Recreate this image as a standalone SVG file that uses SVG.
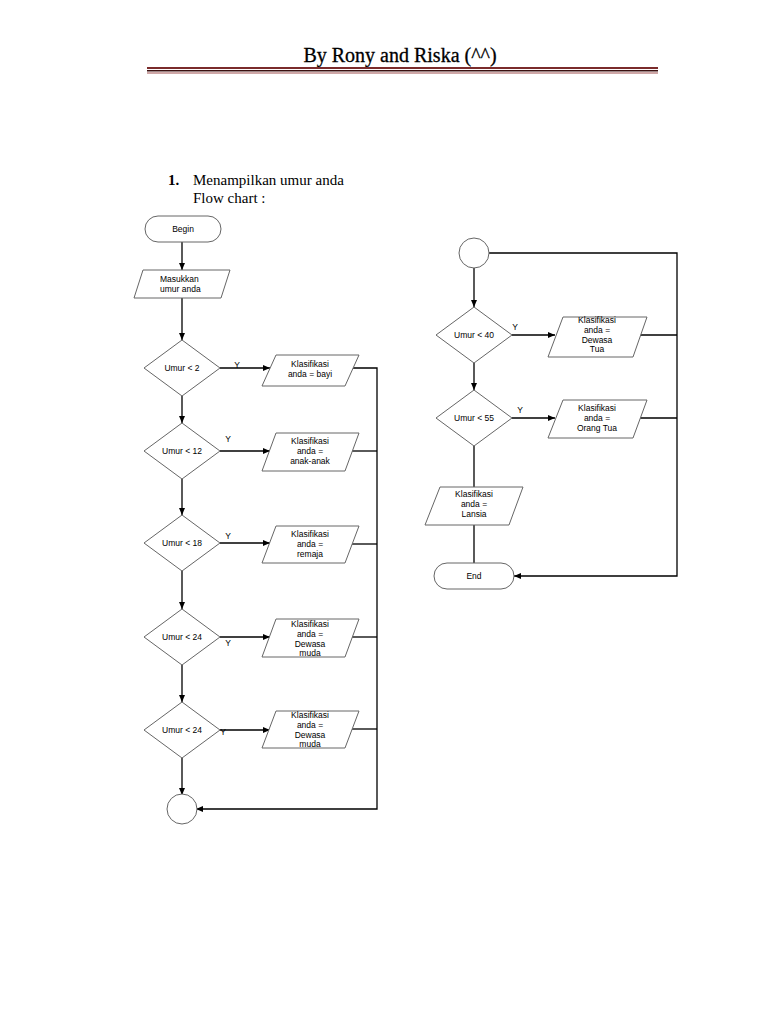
<svg xmlns="http://www.w3.org/2000/svg" width="768" height="1024" viewBox="0 0 768 1024">
<style>
.s{fill:#fff;stroke:#666;stroke-width:1}
.t{font-family:"Liberation Sans",Arial,sans-serif;font-size:8.5px;text-anchor:middle;fill:#000}
.l{text-anchor:start}
.c{fill:none;stroke:#000;stroke-width:1.3}
.h{font-family:"Liberation Serif","Times New Roman",serif;fill:#000}
</style>
<defs><marker id="a" markerWidth="8" markerHeight="8" refX="7" refY="4" orient="auto" markerUnits="userSpaceOnUse"><path d="M0,1 L7,4 L0,7 Z" fill="#000"/></marker></defs>
<rect width="768" height="1024" fill="#fff"/>
<text class="h" x="400" y="62" font-size="20" text-anchor="middle" stroke="#000" stroke-width="0.3">By Rony and Riska (^^)</text>
<rect x="147" y="67" width="511" height="2" fill="#7a2b2b"/>
<rect x="147" y="70" width="511" height="1.5" fill="#3a1010"/>
<rect x="147" y="72.5" width="511" height="1" fill="#a05050"/>
<text class="h" x="168" y="185" font-size="15" font-weight="bold">1.</text>
<text class="h" x="193" y="185" font-size="15">Menampilkan umur anda</text>
<text class="h" x="193" y="203" font-size="15">Flow chart :</text>
<g id="connectors">
<path class="c" d="M182,242V270" marker-end="url(#a)"/>
<path class="c" d="M182,298V340" marker-end="url(#a)"/>
<path class="c" d="M182,396V423" marker-end="url(#a)"/>
<path class="c" d="M182,479V515" marker-end="url(#a)"/>
<path class="c" d="M182,571V609" marker-end="url(#a)"/>
<path class="c" d="M182,665V702" marker-end="url(#a)"/>
<path class="c" d="M182,758V795" marker-end="url(#a)"/>
<path class="c" d="M220,368H270" marker-end="url(#a)"/>
<path class="c" d="M220,451H270" marker-end="url(#a)"/>
<path class="c" d="M220,543H270" marker-end="url(#a)"/>
<path class="c" d="M220,637H270" marker-end="url(#a)"/>
<path class="c" d="M220,730H270" marker-end="url(#a)"/>
<path class="c" d="M350,368H377V809H196" marker-end="url(#a)"/>
<path class="c" d="M348,451H377"/><path class="c" d="M348,544H377"/><path class="c" d="M348,637H377"/><path class="c" d="M348,729H377" stroke="#777"/>
<path class="c" d="M474,268V307" marker-end="url(#a)"/>
<path class="c" d="M474,363V390" marker-end="url(#a)"/>
<path class="c" d="M512,335H555" marker-end="url(#a)"/>
<path class="c" d="M512,418H555" marker-end="url(#a)"/>
<path class="c" d="M489,253H677V576H514" marker-end="url(#a)"/>
<path class="c" d="M640,335H677"/><path class="c" d="M640,418H677"/>
<path class="c" d="M474,446V487"/>
<path class="c" d="M474,525V563"/>
<text class="t" x="237" y="368">Y</text><text class="t" x="228" y="442">Y</text><text class="t" x="228" y="539">Y</text><text class="t" x="228" y="646">Y</text><text class="t" x="223" y="735">Y</text>
<text class="t" x="515" y="330">Y</text><text class="t" x="520" y="413">Y</text>
</g>
<g id="begin"><rect class="s" x="145" y="216" width="76" height="26" rx="13"/><text class="t" x="183" y="232">Begin</text></g>
<g id="input"><path class="s" d="M143,270H230L221,298H134Z"/><text class="t l" x="160" y="282">Masukkan</text><text class="t l" x="160" y="292">umur anda</text></g>
<g id="d2"><path class="s" d="M182,340L220,368L182,396L144,368Z"/><text class="t" x="182" y="371">Umur &lt; 2</text></g>
<g id="d12"><path class="s" d="M182,423L220,451L182,479L144,451Z"/><text class="t" x="182" y="454">Umur &lt; 12</text></g>
<g id="d18"><path class="s" d="M182,515L220,543L182,571L144,543Z"/><text class="t" x="182" y="546">Umur &lt; 18</text></g>
<g id="d24"><path class="s" d="M182,609L220,637L182,665L144,637Z"/><text class="t" x="182" y="640">Umur &lt; 24</text></g>
<g id="d24b"><path class="s" d="M182,702L220,730L182,758L144,730Z"/><text class="t" x="182" y="733">Umur &lt; 24</text></g>
<g id="p1"><path class="s" d="M276,355H359L345,386H262Z"/><text class="t" x="310" y="367">Klasifikasi</text><text class="t" x="310" y="377">anda = bayi</text></g>
<g id="p2"><path class="s" d="M276,433H359L345,471H262Z"/><text class="t" x="310" y="444">Klasifikasi</text><text class="t" x="310" y="454">anda =</text><text class="t" x="310" y="464">anak-anak</text></g>
<g id="p3"><path class="s" d="M276,526H359L345,563H262Z"/><text class="t" x="310" y="537">Klasifikasi</text><text class="t" x="310" y="547">anda =</text><text class="t" x="310" y="557">remaja</text></g>
<g id="p4"><path class="s" d="M276,619H359L345,657H262Z"/><text class="t" x="310" y="627">Klasifikasi</text><text class="t" x="310" y="637">anda =</text><text class="t" x="310" y="647">Dewasa</text><text class="t" x="310" y="656">muda</text></g>
<g id="p5"><path class="s" d="M276,711H359L345,748H262Z"/><text class="t" x="310" y="718">Klasifikasi</text><text class="t" x="310" y="728">anda =</text><text class="t" x="310" y="738">Dewasa</text><text class="t" x="310" y="747">muda</text></g>
<g id="endL"><circle class="s" cx="182" cy="809" r="15"/></g>
<g id="startR"><circle class="s" cx="474" cy="253" r="15"/></g>
<g id="d40"><path class="s" d="M474,307L512,335L474,363L436,335Z"/><text class="t" x="474" y="338">Umur &lt; 40</text></g>
<g id="d55"><path class="s" d="M474,390L512,418L474,446L436,418Z"/><text class="t" x="474" y="421">Umur &lt; 55</text></g>
<g id="p6"><path class="s" d="M563,317H647L633,357H548Z"/><text class="t" x="597" y="323">Klasifikasi</text><text class="t" x="597" y="333">anda =</text><text class="t" x="597" y="343">Dewasa</text><text class="t" x="597" y="352">Tua</text></g>
<g id="p7"><path class="s" d="M563,400H647L633,438H548Z"/><text class="t" x="597" y="411">Klasifikasi</text><text class="t" x="597" y="421">anda =</text><text class="t" x="597" y="431">Orang Tua</text></g>
<g id="p8"><path class="s" d="M440,487H523L509,525H425Z"/><text class="t" x="474" y="497">Klasifikasi</text><text class="t" x="474" y="507">anda =</text><text class="t" x="474" y="517">Lansia</text></g>
<g id="end"><rect class="s" x="434" y="563" width="80" height="26" rx="13"/><text class="t" x="474" y="579">End</text></g>
</svg>
